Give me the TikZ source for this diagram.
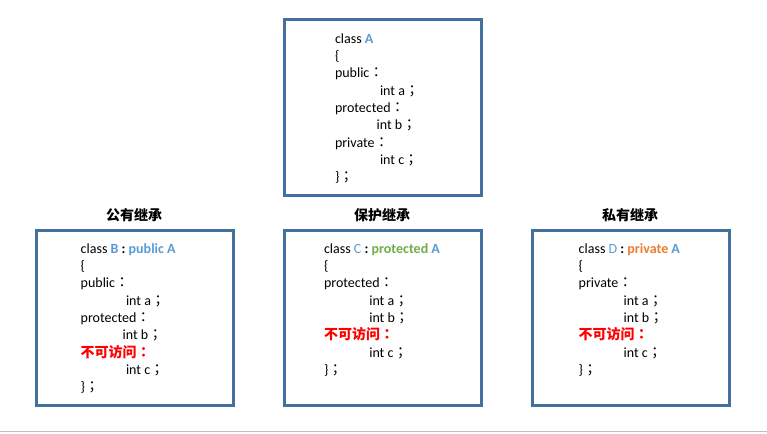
\documentclass[tikz,border=0pt]{standalone}
\usepackage{fontspec}
\setmainfont{Carlito}
\newfontfamily\cjk{Noto Sans CJK SC}
\newfontfamily\cjkp{Noto Sans CJK TC}
\definecolor{boxblue}{HTML}{41719C}
\definecolor{lblue}{HTML}{5B9BD5}
\definecolor{lgreen}{HTML}{70AD47}
\definecolor{lorange}{HTML}{ED7D31}
\definecolor{lred}{HTML}{FF0000}
\definecolor{rulegray}{HTML}{BFBFBF}
\newcommand{\fwc}{{\cjkp ：}}
\newcommand{\fws}{{\cjkp ；}}
\newcommand{\noacc}{\textcolor{lred}{\bfseries{\cjk 不可访问}{\cjkp ：}}}
\tikzset{
  codebox/.style={draw=boxblue, line width=3pt, inner sep=0pt, outer sep=0pt,
    minimum width=197pt, minimum height=175pt},
  codeline/.style={anchor=base west, inner sep=0pt, outer sep=0pt,
    font=\fontsize{14pt}{17pt}\selectfont, text=black},
  titletext/.style={anchor=base, inner sep=0pt, outer sep=0pt,
    font=\fontsize{14pt}{17pt}\selectfont\bfseries\cjk, text=black}
}
\begin{document}
\begin{tikzpicture}[x=1pt,y=-1pt]
\useasboundingbox (0,0) rectangle (767,433);
\fill[white] (0,0) rectangle (767,433);
\draw[rulegray, line width=1.2pt] (0,431.5) -- (767,431.5);

% boxes
\node[codebox, minimum height=176pt] (boxA) at (383,107.5) {};
\node[codebox] (boxB) at (135,318) {};
\node[codebox] (boxC) at (383,318) {};
\node[codebox] (boxD) at (631,318) {};

% titles
\node[titletext] (titleB) at (134,220.8) {公有继承};
\node[titletext] (titleC) at (382,220.8) {保护继承};
\node[titletext] (titleD) at (630,220.8) {私有继承};

% class A
\node[codeline] (a1) at (335,43.3) {class \textcolor{lblue}{\bfseries A}};
\node[codeline] (a2) at (335,60.6) {\{};
\node[codeline] (a3) at (335,77.9) {public\fwc};
\node[codeline] (a4) at (380,95.2) {int a\fws};
\node[codeline] (a5) at (335,112.5) {protected\fwc};
\node[codeline] (a6) at (376.7,129.8) {int b\fws};
\node[codeline] (a7) at (335,147.1) {private\fwc};
\node[codeline] (a8) at (380,164.4) {int c\fws};
\node[codeline] (a9) at (335,181.7) {\}\fws};

% class B
\node[codeline] (b1) at (80.7,253.3) {class \textcolor{lblue}{\bfseries B} \textbf{:} \textcolor{lblue}{\bfseries public A}};
\node[codeline] (b2) at (80.7,270.6) {\{};
\node[codeline] (b3) at (80.7,287.9) {public\fwc};
\node[codeline] (b4) at (126,305.2) {int a\fws};
\node[codeline] (b5) at (80.7,322.5) {protected\fwc};
\node[codeline] (b6) at (122.7,339.8) {int b\fws};
\node[codeline] (b7) at (80.7,357.1) {\noacc};
\node[codeline] (b8) at (126,374.4) {int c\fws};
\node[codeline] (b9) at (80.7,391.7) {\}\fws};

% class C
\node[codeline] (c1) at (324,253.3) {class \textcolor{lblue}{C} \textbf{:} \textcolor{lgreen}{\bfseries protected} \textcolor{lblue}{\bfseries A}};
\node[codeline] (c2) at (324,270.6) {\{};
\node[codeline] (c3) at (324,287.9) {protected\fwc};
\node[codeline] (c4) at (369.3,305.2) {int a\fws};
\node[codeline] (c5) at (369.3,322.5) {int b\fws};
\node[codeline] (c6) at (324,339.8) {\noacc};
\node[codeline] (c7) at (369.3,357.1) {int c\fws};
\node[codeline] (c8) at (324,374.4) {\}\fws};

% class D
\node[codeline] (d1) at (578.7,253.3) {class \textcolor{lblue}{D} \textbf{:} \textcolor{lorange}{\bfseries private} \textcolor{lblue}{\bfseries A}};
\node[codeline] (d2) at (578.7,270.6) {\{};
\node[codeline] (d3) at (578.7,287.9) {private\fwc};
\node[codeline] (d4) at (623.7,305.2) {int a\fws};
\node[codeline] (d5) at (623.7,322.5) {int b\fws};
\node[codeline] (d6) at (578.7,339.8) {\noacc};
\node[codeline] (d7) at (623.7,357.1) {int c\fws};
\node[codeline] (d8) at (578.7,374.4) {\}\fws};
\end{tikzpicture}
\end{document}
